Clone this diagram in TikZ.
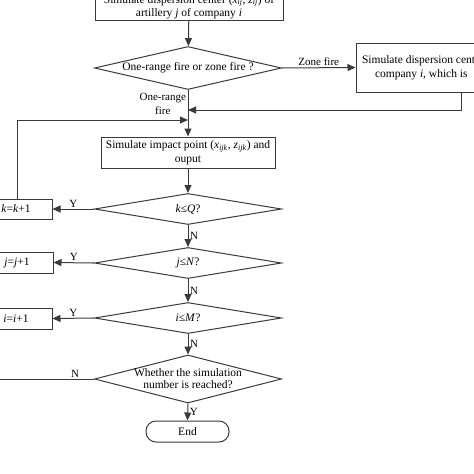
\documentclass[tikz,border=0pt]{standalone}
\usepackage{fontspec}
\setmainfont{Liberation Serif}
\usetikzlibrary{shapes.geometric,arrows.meta}
\definecolor{ln}{HTML}{3A3A3A}
\begin{document}
\begin{tikzpicture}[x=1pt,y=-1pt,
  font=\fontsize{11.5}{13.5}\selectfont,
  line width=1pt,
  >={Triangle[length=8pt,width=7pt]},
  conn/.style={draw=ln,->},
  plain/.style={draw=ln},
  box/.style={draw=ln,rectangle,inner sep=0pt,align=center},
  dia/.style={draw=ln,diamond,inner sep=0pt,minimum width=187pt},
  term/.style={draw=ln,rectangle,rounded corners=10pt,inner sep=0pt},
  lbl/.style={font=\fontsize{11}{13}\selectfont,inner sep=1.5pt}]
\useasboundingbox (0,0) rectangle (474,474);
\clip (0,0) rectangle (474,474);

\node[box,minimum width=188pt,minimum height=26pt] (top) at (189,7)
  {Simulate dispersion center (\textit{x}\textsubscript{\textit{ij}}, \textit{z}\textsubscript{\textit{ij}}) of\\artillery \textit{j} of company \textit{i}};
\node[dia,minimum height=43pt,label={center:One-range fire or zone fire ?}] (d1) at (188,68) {};
\node[box,minimum width=134pt,minimum height=49pt,
  label={[anchor=west,align=left,inner sep=0pt,xshift=6pt]west:Simulate dispersion center\\\hspace*{13pt}company \textit{i}, which is}] (zb) at (423,67.5) {};
\node[box,minimum width=174pt,minimum height=31pt] (imp) at (188,152.5)
  {Simulate impact point (\textit{x}\textsubscript{\textit{ijk}}, \textit{z}\textsubscript{\textit{ijk}}) and\\ouput};
\node[dia,minimum height=31pt,label={center:\textit{k}≤\textit{Q}?}] (dk) at (188,209) {};
\node[dia,minimum height=31pt,label={center:\textit{j}≤\textit{N}?}] (dj) at (188,263) {};
\node[dia,minimum height=31pt,label={center:\textit{i}≤\textit{M}?}] (di) at (188,318) {};
\node[dia,minimum height=48pt,label={[align=center,font=\fontsize{11.5}{12}\selectfont]center:Whether the simulation\\number is reached?}] (dw) at (188,379) {};
\node[term,minimum width=83pt,minimum height=21pt] (end) at (187.5,431.5) {End};

\node[box,minimum width=72pt,minimum height=20pt] (kb) at (16,209) {\textit{k}=\textit{k}+1};
\node[box,minimum width=72pt,minimum height=21pt] (jb) at (17,262.5) {\textit{j}=\textit{j}+1};
\node[box,minimum width=72pt,minimum height=21pt] (ib) at (16,318.5) {\textit{i}=\textit{i}+1};

\coordinate (zc) at (461,110);
\coordinate (kc) at (17,120);
\coordinate (nc) at (0,379);

\draw[conn] (top) -- (d1);
\draw[conn] (d1.east) -- node[lbl,above] {Zone fire} (zb.west);
\draw[conn] (zb.south -| zc) -- (zc) -- (zc -| d1.south);
\draw[conn] (d1.south) -- node[lbl,left,align=center,pos=0.3,font=\fontsize{11}{14}\selectfont] {One-range\\fire} (imp.north);
\draw[conn] (kb.north -| kc) -- (kc) -- (kc -| d1.south);
\draw[conn] (imp) -- (dk);
\draw[conn] (dk.west) -- node[lbl,above] {Y} (kb.east);
\draw[conn] (dk.south) -- node[lbl,right] {N} (dj.north);
\draw[conn] (dj.west) -- node[lbl,above] {Y} (jb.east);
\draw[conn] (dj.south) -- node[lbl,right] {N} (di.north);
\draw[conn] (di.west) -- node[lbl,above] {Y} (ib.east);
\draw[conn] (di.south) -- node[lbl,right] {N} (dw.north);
\draw[plain] (dw.west) -- node[lbl,above,pos=0.2] {N} (nc);
\draw[conn] (dw.south) -- node[lbl,right] {Y} (end.north);
\end{tikzpicture}
\end{document}
